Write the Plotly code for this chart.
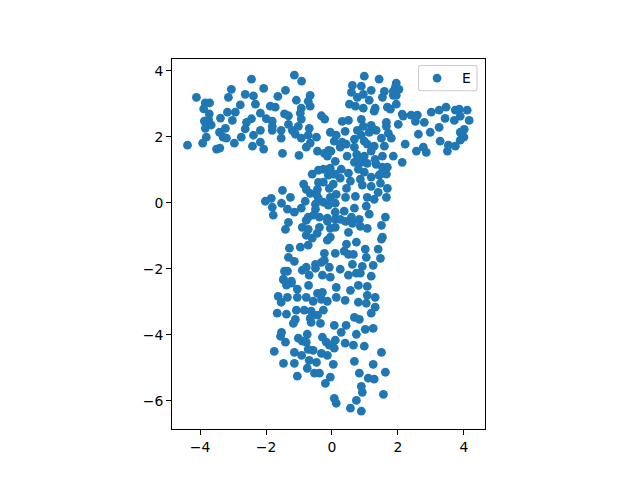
import plotly.graph_objects as go

upper_left_x = [-4.38,-4.11,-3.92,-3.81,-3.84,-3.71,-3.89,-3.72,-3.87,-3.74,-3.66,-3.84,-3.38,-3.17,-2.93,-3.02,-2.78,-3.14,-3.05,-2.63,-2.44,-2.38,-2.32,-2.07,-2.17,-2.44,-2.59,-2.63,-2.17,-2.38,-2.75,-2.96,-3.23,-3.41,-3.30,-3.20,-3.50,-3.40,-2.41,-2.17,-2.07,-1.50,-1.00,-1.14,-0.92,-1.41,-1.64,-1.08,-0.66,-0.72,-0.66,-0.93,-0.96,-0.93,-1.87,-1.72,-1.44,-1.32,-1.99,-1.81,-1.81,-1.81,-1.54,-1.54,-1.32,-1.20,-1.02,-1.11,-0.93,-0.69,-0.72,-0.47,-0.66,-0.78,-0.32,-0.22,-0.44,-0.23,-0.10]
upper_left_y = [1.75,3.20,1.81,1.99,3.03,3.03,2.85,2.70,2.48,2.52,2.36,2.26,2.57,2.75,2.75,2.50,2.97,3.20,3.44,3.29,3.75,3.24,2.99,3.47,2.72,2.55,2.44,2.24,2.20,2.05,1.99,1.81,2.26,2.14,1.99,1.96,1.63,1.66,1.72,1.84,1.63,1.50,1.44,3.87,3.69,3.41,3.23,3.11,3.26,3.08,2.93,2.87,2.72,2.54,2.93,2.90,2.70,2.64,2.55,2.48,2.32,2.20,2.20,1.96,2.38,2.20,2.32,2.08,1.96,2.26,2.05,1.99,1.81,1.69,2.64,2.54,1.57,1.50,1.59]

upper_right_x = [0.98,1.43,0.62,0.89,0.59,0.77,0.95,1.19,1.59,1.53,1.13,1.95,1.92,2.03,1.86,1.95,1.86,0.53,0.71,0.95,1.31,1.28,1.68,1.77,1.95,2.13,2.16,2.40,2.59,2.53,2.80,3.01,3.25,3.46,3.43,3.74,3.86,4.10,4.16,3.89,3.71,3.25,2.98,2.62,4.01,3.89,4.00,3.89,3.28,3.53,3.74,3.50,2.22,2.77,2.56,2.86,2.01,1.65,1.65,1.71,1.80,1.50,1.59,1.86,2.13,1.53,0.31,0.50,0.89,0.40,-0.05,0.13,0.95,0.77,1.19,1.25,1.13,1.34,0.89,0.68,0.07,0.31,0.25,0.43,0.98,1.07,0.68,1.28,1.19,-0.03,-0.14,0.46,0.75,0.77,0.98,1.07,0.89,0.68,1.31,1.34,0.10,1.53,1.68,1.65,1.43,1.19,0.98,0.80,0.86,0.50,0.56,0.28,0.25,0.04,-0.11,-0.11]
upper_right_y = [3.84,3.75,3.56,3.54,3.35,3.20,3.29,3.41,3.38,3.20,3.11,3.63,3.50,3.44,3.38,3.26,3.26,2.99,2.93,2.87,2.87,2.78,2.90,2.84,2.99,2.69,2.63,2.66,2.66,2.47,2.44,2.75,2.81,2.90,2.56,2.81,2.84,2.81,2.50,2.63,2.50,2.29,2.14,2.08,2.23,2.14,1.99,1.90,1.87,1.75,1.72,1.57,1.78,1.69,1.57,1.53,2.38,2.44,2.32,2.11,1.96,1.96,1.72,1.42,1.23,1.42,2.47,2.50,2.53,2.17,2.14,2.05,2.32,2.20,2.35,2.23,2.14,2.20,2.05,1.93,1.87,1.84,1.69,1.78,1.87,1.78,1.69,1.72,1.57,1.57,1.42,1.42,1.47,1.29,1.42,1.20,1.23,1.23,1.32,1.17,1.26,1.08,1.08,0.87,0.84,0.78,0.93,1.02,0.72,0.90,0.66,1.02,0.75,0.87,1.02,0.84]

middle_x = [-1.50,-1.26,-1.84,-2.02,-1.53,-1.81,-1.78,-1.35,-1.14,-0.93,-0.81,-1.32,-1.41,-0.86,-0.78,-0.66,-0.44,-0.41,-0.26,-0.60,-0.41,-0.26,-0.05,0.10,0.44,0.04,-0.08,0.13,-0.05,-0.26,-0.41,-0.47,-0.50,0.10,-0.11,0.41,0.71,0.68,1.07,1.28,1.40,1.68,1.65,1.19,1.47,0.92,1.47,1.04,1.13,1.62,1.50,1.53,1.50,1.40,1.47,1.25,1.19,1.01,1.04,0.92,0.62,0.74,0.44,0.37,0.50,0.65,0.10,-0.23,-0.23,-0.32,-0.50,-0.50,-0.78,-0.90,-0.69,-0.29,-0.08,-0.05,0.25,0.50,0.74,0.86,-1.14,-1.32,-1.29,-0.96,-0.72,-1.44,-1.35,-1.47,-1.23,-0.14,-0.05,0.50,1.07,0.86,0.83,0.59,0.62,0.37,0.10,0.10,0.25,0.41,-0.14,-0.14,-0.38,-0.72,-0.78,-0.90,-0.72,-0.78,-0.60,-0.45,-0.38,-0.05,0.10,-0.56,-0.50]
middle_y = [0.38,0.17,0.14,0.05,-0.01,-0.13,-0.37,-0.19,-0.28,-0.16,0.05,-0.59,-0.80,0.57,0.41,0.29,0.41,0.62,0.63,0.87,0.99,1.02,1.05,0.87,0.44,0.57,0.44,0.26,0.17,0.02,0.14,0.26,-0.04,-0.01,-0.07,0.17,0.20,-0.16,0.17,0.11,0.32,0.44,0.17,0.50,0.60,0.54,0.87,-0.10,-0.34,-0.43,-0.68,-1.04,-1.10,-1.40,-1.68,-1.89,-2.22,-1.40,-1.65,-1.92,-1.86,-1.19,-1.25,-1.46,-1.56,-1.56,-1.53,-1.53,-1.74,-1.80,-1.86,-1.98,-1.95,-2.04,-2.19,-2.19,-1.95,-2.25,-2.01,-2.19,-2.13,-2.13,-1.77,-1.65,-1.37,-1.34,-1.28,-2.07,-2.07,-2.31,-2.37,-1.13,-1.04,-0.89,-0.77,-0.71,-0.50,-0.43,-0.62,-0.25,-0.28,-0.50,-0.50,-0.56,-0.46,-0.55,-0.43,-0.43,-0.53,-0.74,-0.80,-0.98,-1.07,-0.92,-0.74,-0.77,-0.74,-0.37,-0.19]

lower_x = [-1.47,-1.23,-1.38,-1.05,-0.71,0.13,0.80,1.07,0.56,-1.63,-1.35,-1.54,-1.05,-0.78,-0.44,-0.29,-0.57,-0.32,-0.14,0.13,0.40,0.80,1.04,1.07,1.31,1.31,1.19,-1.66,-1.38,-1.08,-0.84,-0.63,-0.44,-0.26,-0.66,-0.63,-0.35,-1.11,-1.17,0.68,0.83,0.43,0.07,0.28,0.74,1.01,1.25,-1.53,-1.56,-1.41,-0.75,-1.02,-0.90,-0.78,-0.29,-0.17,0.10,-0.08,0.07,0.40,0.65,0.98,1.50,-1.75,-1.14,-0.92,-0.72,-0.57,-0.32,-0.14,-0.69,-0.47,0.04,0.68,1.25,-1.47,-1.14,-0.75,-1.05,-0.53,-0.38,-0.05,-0.20,0.83,1.10,1.28,1.62,0.89,0.92,1.56,0.07,0.13,0.74,0.56,0.89]
lower_y = [-2.33,-2.43,-2.49,-2.61,-2.50,-2.56,-2.50,-2.53,-2.65,-2.83,-2.86,-3.01,-2.86,-2.86,-2.74,-2.71,-2.98,-2.92,-2.98,-2.86,-2.95,-3.01,-3.04,-2.80,-2.86,-3.16,-3.34,-3.34,-3.37,-3.25,-3.25,-3.28,-3.40,-3.25,-3.50,-3.62,-3.65,-3.53,-3.65,-3.47,-3.53,-3.71,-3.71,-3.92,-3.98,-3.83,-3.80,-3.92,-4.04,-4.22,-3.98,-4.10,-4.19,-4.22,-4.07,-4.22,-4.16,-4.31,-4.40,-4.25,-4.31,-4.34,-4.53,-4.50,-4.53,-4.62,-4.44,-4.47,-4.56,-4.62,-4.77,-4.83,-4.89,-4.80,-4.89,-4.86,-4.86,-5.01,-5.25,-5.16,-5.16,-5.28,-5.47,-5.16,-5.31,-5.34,-5.13,-5.56,-5.74,-5.80,-5.92,-6.07,-5.98,-6.22,-6.31]

x_ticks = [-4, -2, 0, 2, 4]
y_ticks = [-6, -4, -2, 0, 2, 4]
series_name = "E"

x_values = upper_left_x + upper_right_x + middle_x + lower_x
y_values = upper_left_y + upper_right_y + middle_y + lower_y

fig = go.Figure(go.Scatter(
    x=x_values, y=y_values, mode="markers", name=series_name,
    marker=dict(size=8.8, color="#1f77b4", line=dict(width=0)),
    showlegend=True,
))

axis_style = dict(
    showgrid=False, zeroline=False, showline=True, mirror=True,
    linecolor="black", linewidth=1.1, ticks="outside", ticklen=4.9,
    tickwidth=1.1, tickcolor="black",
    tickfont=dict(family="DejaVu Sans", size=13.9, color="black"),
)
minus = "\u2212"
fig.update_xaxes(range=[-4.85, 4.64], tickvals=x_ticks,
                 ticktext=[str(v).replace("-", minus) for v in x_ticks], **axis_style)
fig.update_yaxes(range=[-6.85, 4.36], tickvals=y_ticks,
                 ticktext=[str(v).replace("-", minus) for v in y_ticks], **axis_style)

# Rounded legend frame, positioned in pixels relative to the plot-area box.
def fx(px):
    return (px - 172) / 313

def fy(py):
    return (428 - py) / 370

L, R, T, B, C = 418.5, 477, 64.5, 89.7, 2.5
frame_path = (
    f"M {fx(L + C)} {fy(T)} L {fx(R - C)} {fy(T)} Q {fx(R)} {fy(T)} {fx(R)} {fy(T + C)} "
    f"L {fx(R)} {fy(B - C)} Q {fx(R)} {fy(B)} {fx(R - C)} {fy(B)} "
    f"L {fx(L + C)} {fy(B)} Q {fx(L)} {fy(B)} {fx(L)} {fy(B - C)} "
    f"L {fx(L)} {fy(T + C)} Q {fx(L)} {fy(T)} {fx(L + C)} {fy(T)} Z"
)

fig.update_layout(
    width=632, height=472, autosize=False,
    margin=dict(l=164, r=155, t=51, b=51, pad=0),
    paper_bgcolor="white", plot_bgcolor="white",
    legend=dict(
        x=0.767, y=0.9905, xanchor="left", yanchor="top",
        borderwidth=0, bgcolor="rgba(0,0,0,0)",
        itemwidth=40, font=dict(family="DejaVu Sans", size=13.9, color="black"),
    ),
    shapes=[dict(
        type="path", path=frame_path, xref="paper", yref="paper", layer="above",
        line=dict(color="#cccccc", width=1.1), fillcolor="rgba(255,255,255,0.8)",
    )],
)

fig.write_html("out.html")
